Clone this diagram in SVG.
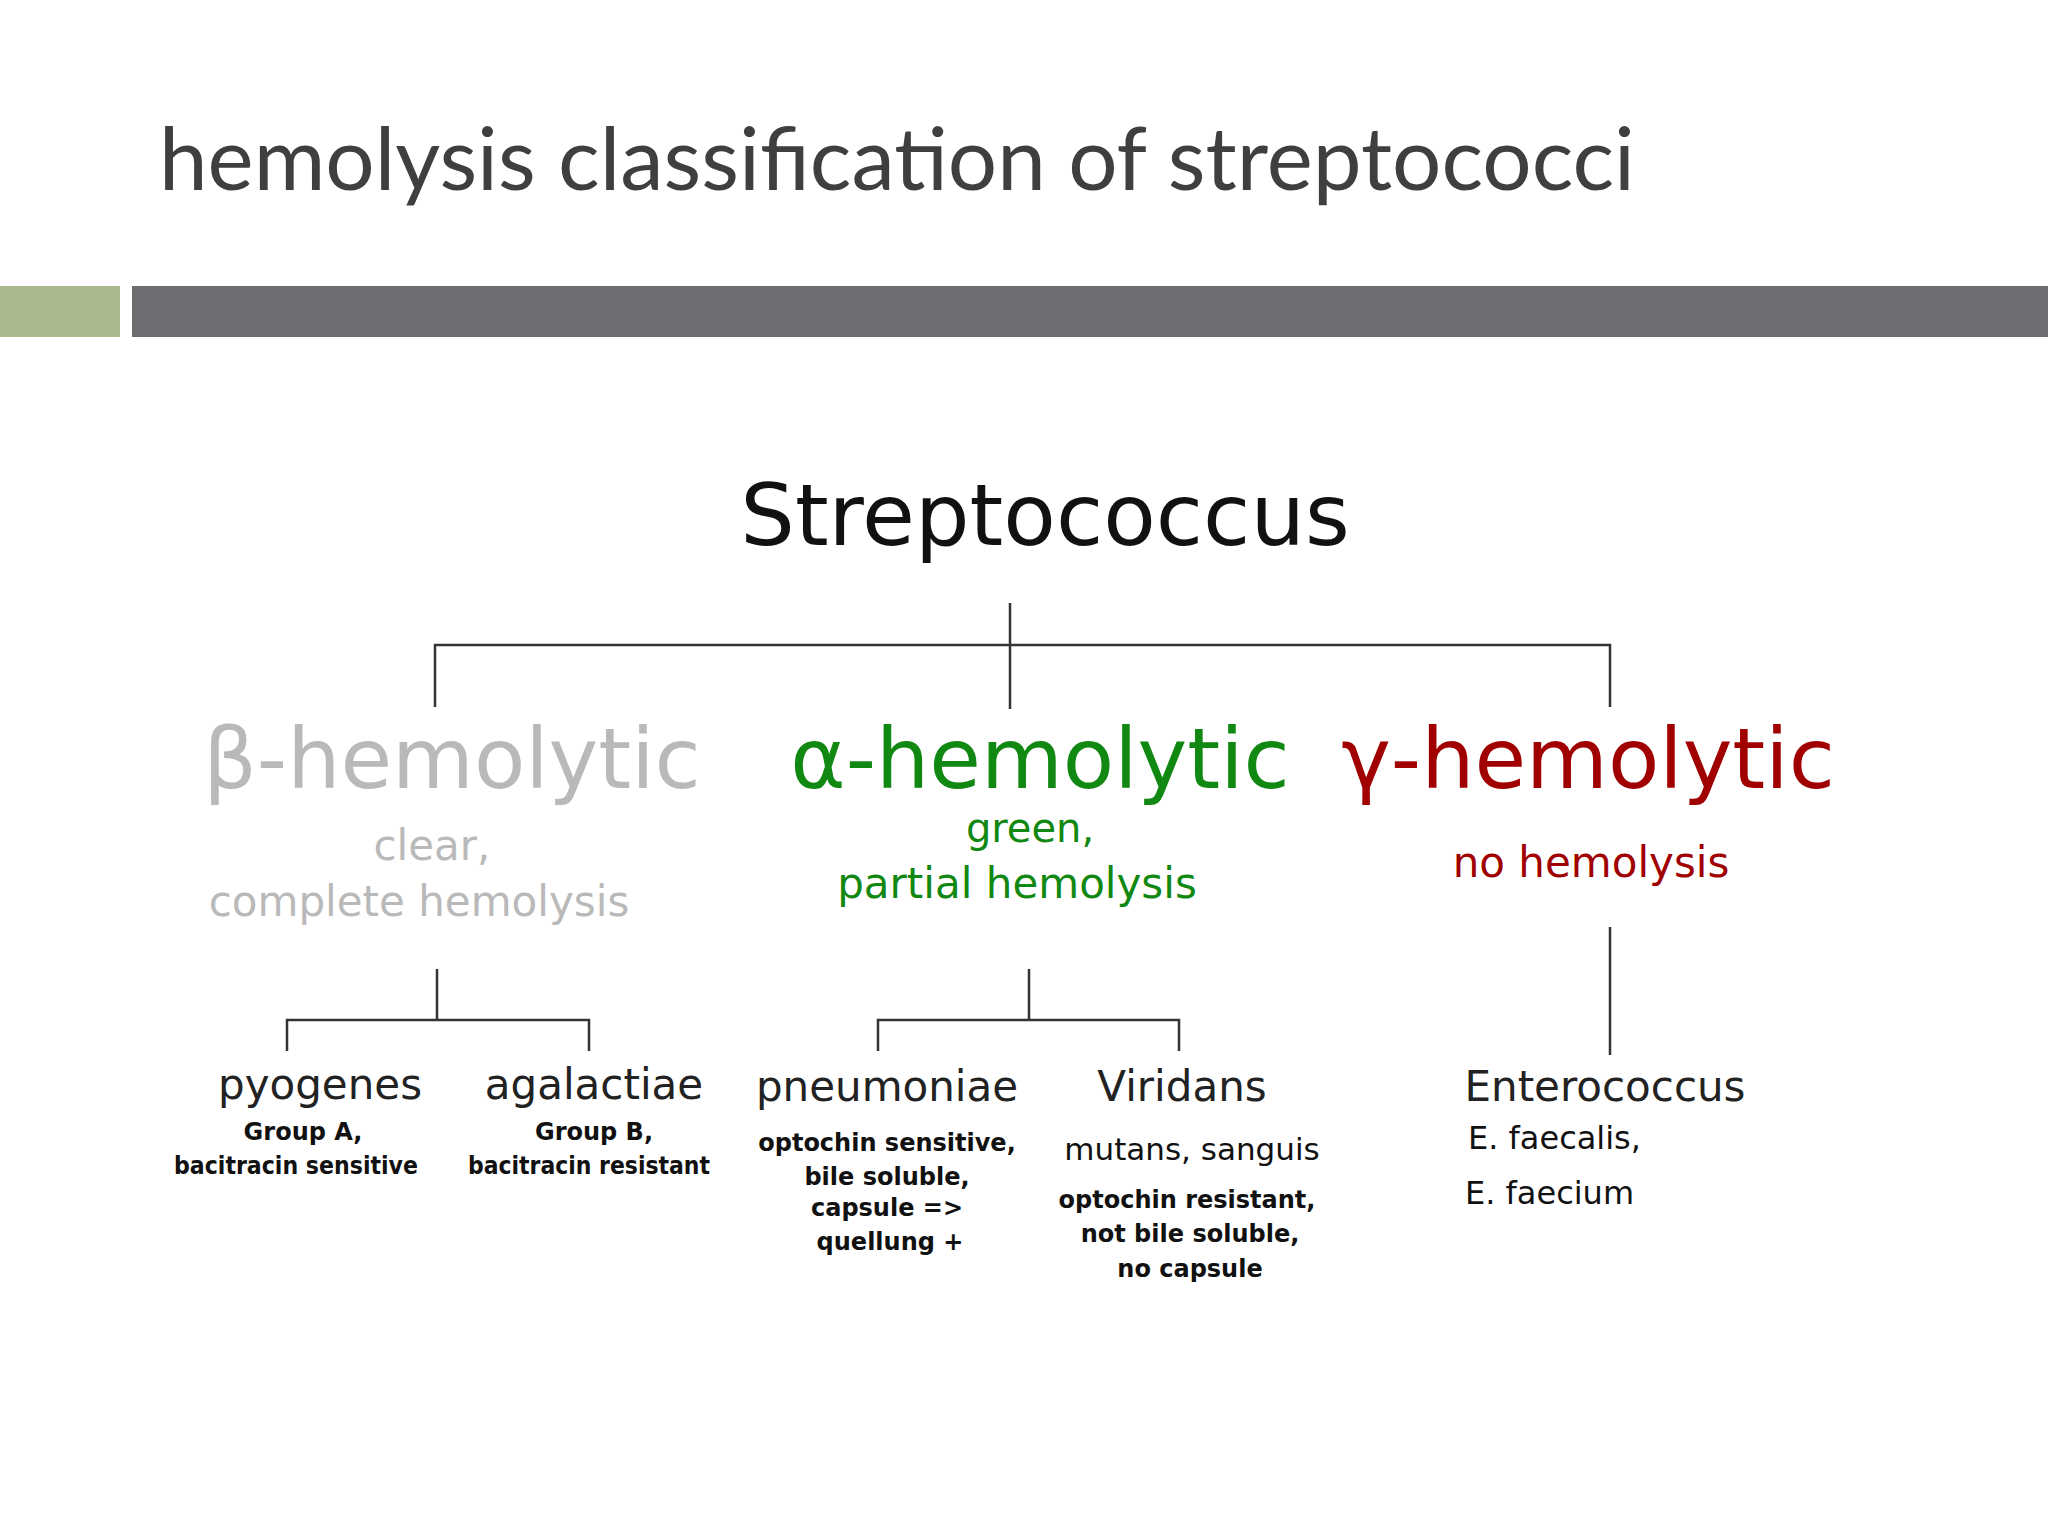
<svg xmlns="http://www.w3.org/2000/svg" width="2048" height="1536" viewBox="0 0 2048 1536">
<style>
.t{font-family:"DejaVu Sans",sans-serif}
.c{text-anchor:middle}
.ln{stroke:#333;stroke-width:2.5;fill:none}
.sm{font-size:24px;fill:#111;font-weight:bold}
.sp{font-size:42px;fill:#222}
</style>
<rect width="2048" height="1536" fill="#fff"/>
<text x="159" y="190" font-family="Lato, sans-serif" font-size="88" fill="#3f3f3f" textLength="1476" lengthAdjust="spacingAndGlyphs">hemolysis classification of streptococci</text>
<rect x="0" y="286" width="120" height="51" fill="#a9b98c"/>
<rect x="132" y="286" width="1916" height="51" fill="#6d6e71"/>
<g id="connectors" class="ln">
<path d="M1010 603V709M435 707V645H1610V707"/>
<path d="M437 969V1020M287 1051V1020H589V1051"/>
<path d="M1029 969V1020M878 1051V1020H1179V1051"/>
<path d="M1610 927V1055"/>
</g>
<g id="root"><text class="t c" x="1045" y="545" font-size="86" fill="#111">Streptococcus</text></g>
<g id="beta" class="t c" fill="#b9b9b9">
<text x="452" y="788" font-size="84">β-hemolytic</text>
<text x="432" y="860" font-size="42">clear,</text>
<text x="419" y="916" font-size="42">complete hemolysis</text>
</g>
<g id="alpha" class="t c" fill="#118811">
<text x="1040" y="788" font-size="84">α-hemolytic</text>
<text x="1030" y="842" font-size="40">green,</text>
<text x="1017" y="898" font-size="42">partial hemolysis</text>
</g>
<g id="gamma" class="t c" fill="#a00000">
<text x="1588" y="788" font-size="84">γ-hemolytic</text>
<text x="1591" y="877" font-size="42">no hemolysis</text>
</g>
<g id="pyogenes" class="t c">
<text class="sp" x="320" y="1099">pyogenes</text>
<text class="sm" x="303" y="1140">Group A,</text>
<text class="sm" x="296" y="1174" textLength="244" lengthAdjust="spacingAndGlyphs">bacitracin sensitive</text>
</g>
<g id="agalactiae" class="t c">
<text class="sp" x="594" y="1099">agalactiae</text>
<text class="sm" x="594" y="1140">Group B,</text>
<text class="sm" x="589" y="1174" textLength="242" lengthAdjust="spacingAndGlyphs">bacitracin resistant</text>
</g>
<g id="pneumoniae" class="t c">
<text class="sp" x="887" y="1101">pneumoniae</text>
<text class="sm" x="887" y="1151">optochin sensitive,</text>
<text class="sm" x="887" y="1185">bile soluble,</text>
<text class="sm" x="887" y="1216">capsule =&gt;</text>
<text class="sm" x="890" y="1250">quellung +</text>
</g>
<g id="viridans" class="t c">
<text class="sp" x="1182" y="1101">Viridans</text>
<text x="1192" y="1160" font-size="31" fill="#111">mutans, sanguis</text>
<text class="sm" x="1187" y="1208">optochin resistant,</text>
<text class="sm" x="1190" y="1242">not bile soluble,</text>
<text class="sm" x="1190" y="1277">no capsule</text>
</g>
<g id="enterococcus" class="t">
<text class="sp c" x="1605" y="1101">Enterococcus</text>
<text x="1468" y="1149" font-size="32" fill="#111">E. faecalis,</text>
<text x="1465" y="1204" font-size="32" fill="#111">E. faecium</text>
</g>
</svg>
